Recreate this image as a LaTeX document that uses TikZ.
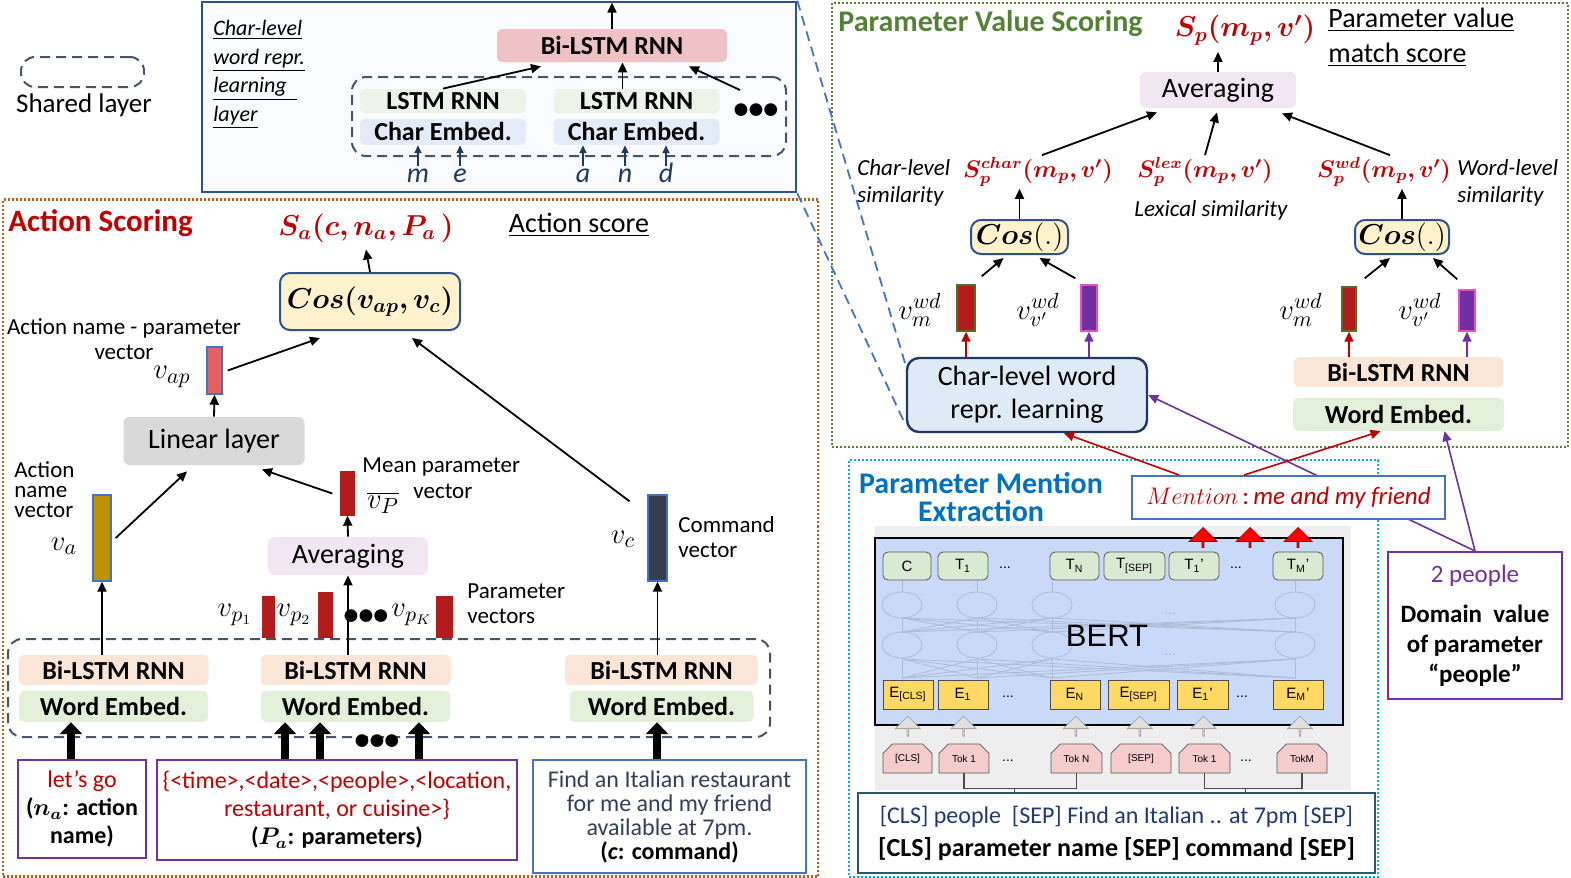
\documentclass[tikz,border=0pt]{standalone}
\usepackage{fontspec}
\setmainfont{Carlito}
\newfontfamily\bertfont{Liberation Sans}
\usepackage{bm}
\usetikzlibrary{positioning,arrows.meta,shapes.arrows,shapes.misc,calc}

\definecolor{panelblue}{RGB}{47,82,143}
\definecolor{panelfill}{RGB}{250,251,254}
\definecolor{dashblue}{RGB}{68,84,106}
\definecolor{linkblue}{RGB}{68,114,196}
\definecolor{orangedot}{RGB}{197,90,17}
\definecolor{greendot}{RGB}{84,130,53}
\definecolor{cyandot}{RGB}{0,176,240}
\definecolor{darkred}{RGB}{192,0,0}
\definecolor{titlegreen}{RGB}{84,130,53}
\definecolor{titleblue}{RGB}{0,112,192}
\definecolor{purp}{RGB}{112,48,160}
\definecolor{peach}{RGB}{251,229,214}
\definecolor{wegreen}{RGB}{226,240,217}
\definecolor{lstmgreen}{RGB}{237,243,233}
\definecolor{charblue}{RGB}{226,235,247}
\definecolor{bilstmpink}{RGB}{239,194,198}
\definecolor{avgpink}{RGB}{242,230,242}
\definecolor{cosyellow}{RGB}{255,242,204}
\definecolor{lineargray}{RGB}{217,217,217}
\definecolor{vapred}{RGB}{229,96,96}
\definecolor{vagold}{RGB}{191,144,0}
\definecolor{pred}{RGB}{180,28,28}
\definecolor{vcnavy}{RGB}{51,63,80}
\definecolor{barline}{RGB}{68,114,196}
\definecolor{purpbar}{RGB}{112,48,160}
\definecolor{pinkline}{RGB}{230,80,200}
\definecolor{oliveline}{RGB}{84,110,40}
\definecolor{charnavy}{RGB}{31,56,100}
\definecolor{reprfill}{RGB}{222,235,247}
\definecolor{reprline}{RGB}{31,56,100}
\definecolor{mentionblue}{RGB}{68,114,196}
\definecolor{bertgray}{RGB}{238,238,238}
\definecolor{bertblue}{RGB}{201,218,248}
\definecolor{tgreen}{RGB}{217,234,211}
\definecolor{eyellow}{RGB}{255,217,102}
\definecolor{tokpink}{RGB}{244,204,204}
\definecolor{faintline}{RGB}{172,188,214}
\definecolor{bertinline}{RGB}{46,84,110}
\definecolor{bertintext}{RGB}{31,56,120}
\definecolor{cmdtext}{RGB}{51,63,90}

\tikzset{
  arr/.style={-{Triangle[length=5pt,width=4.5pt]}, line width=0.9pt},
  navyarr/.style={draw=charnavy, -{Triangle[length=4pt,width=3.5pt]}, line width=0.8pt},
  redarr/.style={arr, draw=darkred, line width=0.8pt},
  purparr/.style={arr, draw=purp, line width=0.8pt},
  thickarr/.style={line width=3.6pt, -{Triangle[length=6pt,width=11pt]}},
  shared/.style={draw=dashblue, line width=1pt, dash pattern=on 5pt off 3pt, rounded corners=7pt, inner sep=0pt},
  linkdash/.style={draw=linkblue, line width=0.9pt, dash pattern=on 5pt off 3pt},
  layerbox/.style={rounded corners=2.5pt, inner sep=0pt, font=\fontsize{13}{15}\selectfont\bfseries},
  bilstm/.style={layerbox, fill=peach, minimum width=95pt, minimum height=15pt},
  wordemb/.style={layerbox, fill=wegreen, minimum width=94.5pt, minimum height=15.5pt},
  softbox/.style={rounded corners=3pt, inner sep=0pt, font=\fontsize{14}{16}\selectfont},
  cosbox/.style={draw=panelblue, fill=cosyellow, line width=1pt, rounded corners=5pt, inner sep=0pt},
  vecbar/.style={draw=barline, line width=0.7pt, inner sep=0pt},
  inbox/.style={line width=1pt, inner sep=0pt, align=center, font=\fontsize{12}{13}\selectfont},
  mathlbl/.style={font=\fontsize{15}{17}\selectfont, inner sep=1pt},
  scorelbl/.style={text=darkred, font=\fontsize{14}{16}\selectfont},
  simscore/.style={text=darkred, font=\fontsize{12}{14}\selectfont, inner sep=1pt},
  note/.style={font=\fontsize{11.5}{12.5}\selectfont, align=left, inner sep=0pt},
  simnote/.style={font=\fontsize{11.5}{13.5}\selectfont\itshape, align=left, inner sep=0pt},
  dotted panel/.style={line width=1.3pt, dash pattern=on 1pt off 1pt, inner sep=0pt},
  tbox/.style={draw=gray!70!black, fill=tgreen, rounded corners=2.5pt, inner sep=0pt, minimum height=14pt, font=\bertfont\fontsize{7.5}{8}\selectfont},
  ebox/.style={draw=gray!60!black, fill=eyellow, inner sep=0pt, minimum height=14.5pt, font=\bertfont\fontsize{7.5}{8}\selectfont},
  tokbox/.style={chamfered rectangle, chamfered rectangle corners={north west,north east}, chamfered rectangle xsep=1.5pt, draw=gray!70!black, fill=tokpink, inner sep=0pt, minimum height=14.5pt, font=\bertfont\fontsize{5}{6}\selectfont},
  redup/.style={single arrow, rotate=90, fill=red, draw=red!70!black, minimum height=10pt, minimum width=14pt, single arrow head extend=3pt, inner sep=0pt},
  grayup/.style={single arrow, rotate=90, fill=gray!25, draw=gray!70, minimum height=10pt, minimum width=12.5pt, single arrow head extend=3pt, inner sep=0pt},
  faint/.style={draw=faintline, line width=0.4pt},
  bertdots/.style={font=\bertfont\fontsize{7}{8}\selectfont}
}

\begin{document}
\begin{tikzpicture}[x=0.5pt,y=-0.5pt]
\useasboundingbox (0,0) rectangle (1571,878);

% Shared layer legend
\node(legendbox) [shared, minimum width=61.5pt, minimum height=15pt] at (82.5,72) {};
\node(legendtext) [font=\fontsize{13.5}{15}\selectfont] at (84,105) {Shared layer};

% Char-level word representation layer
\node(charpanel) [draw=panelblue, fill=panelfill, line width=1.3pt, minimum width=297pt, minimum height=95pt, inner sep=0pt] at (499,97) {};
\node(charnote) [note, anchor=north west, font=\fontsize{11}{14.25}\selectfont\itshape] at (213,20) {\underline{Char-level}\\\underline{word\ repr.}\\\underline{learning\ \ }\\\underline{layer}};
\node(charbilstm) [layerbox, fill=bilstmpink, minimum width=115pt, minimum height=16.5pt] at (612,45.5) {Bi-LSTM RNN};
\node(charshared) [shared, minimum width=217pt, minimum height=39.5pt] at (569,116.5) {};
\node(lstma) [layerbox, fill=lstmgreen, minimum width=83pt, minimum height=12pt] at (443,101) {LSTM RNN};
\node(embeda) [layerbox, fill=charblue, minimum width=83pt, minimum height=13pt, below=2.5pt of lstma] {Char Embed.};
\node(lstmb) [layerbox, fill=lstmgreen, minimum width=83pt, minimum height=12pt] at (636.5,101) {LSTM RNN};
\node(embedb) [layerbox, fill=charblue, minimum width=83pt, minimum height=13pt, below=2.5pt of lstmb] {Char Embed.};
\node(chardots) [font=\fontsize{15}{15}\selectfont\bfseries] at (756,111) {\textbullet\textbullet\textbullet};
\foreach \ltr/\x/\ch in {lm/418/m, le/460/e, la/583/a, ln/625/n, ld/666/d} {
  \node(\ltr) [font=\fontsize{14}{16}\selectfont\itshape, text=charnavy, text height=7pt, text depth=0pt, inner sep=1pt] at (\x,175) {\ch};
  \draw[navyarr] (\ltr.north) -- (\ltr.north |- embeda.south);
}
\coordinate(dotsrc) at (740,90);
\draw[arr] (lstma.north) -- ([xshift=-35.5pt,yshift=-2pt]charbilstm.south);
\draw[arr] ([xshift=-7pt]lstmb.north) -- ([xshift=-7pt]lstmb.north |- charbilstm.south);
\draw[arr] (dotsrc) -- ([xshift=38.5pt,yshift=-2pt]charbilstm.south);
\draw[arr] (charbilstm.north) -- ++(0,-26);

% Action Scoring
\node(actpanel) [dotted panel, draw=orangedot, minimum width=407.5pt, minimum height=338.5pt] at (410.5,538) {};
\node(acttitle) [anchor=west, inner sep=0pt, text=darkred, font=\fontsize{15.5}{17}\selectfont\bfseries] at (8,223) {Action Scoring};
\node(sa) [scorelbl] at (366,228) {$\bm{S_a(c,n_a,P_a\,)}$};
\node(actscore) [font=\fontsize{14}{16}\selectfont] at (579,225) {\underline{Action score}};
\node(cosa) [cosbox, minimum width=90pt, minimum height=28.5pt, font=\fontsize{14}{16}\selectfont] at (370,301.5) {$\bm{Cos(v_{ap},v_c)}$};
\draw[arr] (cosa.north) -- (sa.south);

\node(vaplabel) [note, align=center] at (124,339.5) {Action name - parameter\\vector};
\node(vap) [vecbar, fill=vapred, minimum width=7.5pt, minimum height=23.5pt] at (214.5,370.5) {};
\node(vapname) [mathlbl] at (172,377) {$v_{ap}$};
\node(linear) [softbox, fill=lineargray, minimum width=90.5pt, minimum height=24pt] at (214,441) {Linear layer};
\draw[arr] (linear.north) -- (vap.south);
\draw[arr] ([xshift=2.5pt]vap.east) -- ([xshift=-25pt,yshift=-3.5pt]cosa.south);

\node(valabel) [note, anchor=west, font=\fontsize{11.5}{10}\selectfont] at (14,490) {Action\\name\\vector};
\node(va) [vecbar, fill=vagold, minimum width=9pt, minimum height=43pt] at (102,538) {};
\node(vaname) [mathlbl] at (64,546) {$v_a$};
\draw[arr] ([xshift=2pt]va.east) -- ([xshift=-13.5pt,yshift=-3pt]linear.south);

\node(vpmean) [vecbar, draw=pred, fill=pred, minimum width=6.5pt, minimum height=21.5pt] at (347.5,493.5) {};
\node(vpmeanname) [mathlbl] at (383,503) {$\overline{v_P}$};
\node(meanlabel) [note, anchor=west] at (362,467) {Mean parameter};
\node(meanlabelb) [note, anchor=west] at (413,491) {vector};
\draw[arr] ([xshift=-4pt]vpmean.west) -- ([xshift=24pt,yshift=-2pt]linear.south);

\node(avga) [softbox, fill=avgpink, minimum width=80pt, minimum height=19pt] at (348,556) {Averaging};
\draw[arr] (avga.north) -- (vpmean.south);

\node(vpa) [vecbar, draw=pred, fill=pred, minimum width=5.5pt, minimum height=20pt] at (268.5,617) {};
\node(vpb) [vecbar, draw=pred, fill=pred, minimum width=6.5pt, minimum height=22pt] at (325.5,615) {};
\node(vpk) [vecbar, draw=pred, fill=pred, minimum width=7.5pt, minimum height=20pt] at (444.5,617) {};
\node(vpaname) [mathlbl] at (235,615) {$v_{p_1}$};
\node(vpbname) [mathlbl] at (294,615) {$v_{p_2}$};
\node(vpkname) [mathlbl] at (412,615) {$v_{p_K}$};
\node(plabel) [note, anchor=west] at (467,604) {Parameter\\vectors};

\node(vc) [vecbar, fill=vcnavy, minimum width=9.5pt, minimum height=43pt] at (657.5,538) {};
\node(vcname) [mathlbl] at (623,539) {$v_c$};
\node(vclabel) [note, anchor=west] at (678,537) {Command\\vector};
\draw[arr] ([xshift=-14pt,yshift=-3.5pt]vc.north) -- ([xshift=21pt,yshift=-3.5pt]cosa.south);

% Word level shared encoders
\node(wordshared) [shared, minimum width=381pt, minimum height=49pt] at (389,688) {};
\node(bilstma) [bilstm] at (113.5,670) {Bi-LSTM RNN};
\node(wordemba) [wordemb, below=2.5pt of bilstma] {Word Embed.};
\node(bilstmb) [bilstm] at (355.5,670) {Bi-LSTM RNN};
\node(wordembb) [wordemb, below=2.5pt of bilstmb] {Word Embed.};
\node(bilstmc) [bilstm, minimum width=96.5pt] at (661.5,670) {Bi-LSTM RNN};
\node(wordembc) [wordemb, minimum width=92pt, below=2.5pt of bilstmc] {Word Embed.};
\draw[arr] (va.south |- bilstma.north) -- (va.south);
\draw[arr] (avga.south |- bilstmb.north) -- (avga.south);
\node(pdots) [font=\fontsize{15}{15}\selectfont\bfseries] at (366,617) {\textbullet\textbullet\textbullet};
\draw[arr] (vc.south |- bilstmc.north) -- (vc.south);

% Inputs
\node(inname) [inbox, draw=purp, minimum width=64pt, minimum height=49pt] at (82,809) {{\color{darkred}let’s go}\\[1pt]\textbf{($\bm{n_a}$: action}\\[1pt]\textbf{name)}};
\node(inparams) [inbox, draw=purp, minimum width=180pt, minimum height=50pt] at (337,810) {{\color{darkred}\{<time>,<date>,<people>,<location,}\\[1pt]{\color{darkred}restaurant, or cuisine>\}}\\[1pt]\textbf{($\bm{P_a}$: parameters)}};
\node(incmd) [inbox, draw=linkblue, minimum width=136.5pt, minimum height=56.5pt, font=\fontsize{12}{12}\selectfont] at (669.5,816.5) {{\color{cmdtext}Find an Italian restaurant}\\{\color{cmdtext}for me and my friend}\\{\color{cmdtext}available at 7pm.}\\\textbf{(\textit{c}: command)}};
\draw[thickarr] ([xshift=-5.5pt]inname.north) -- ([xshift=-5.5pt]inname.north |- wordemba.south);
\foreach \dx in {-26,-8.5,41}
  \draw[thickarr] ([xshift=\dx pt]inparams.north) -- ([xshift=\dx pt]inparams.north |- wordembb.south);
\node(indots) [font=\fontsize{15}{15}\selectfont\bfseries] at (377,742) {\textbullet\textbullet\textbullet};
\draw[thickarr] ([xshift=-6.25pt]incmd.north) -- ([xshift=-6.25pt]incmd.north |- wordembc.south);

% Parameter Value Scoring
\node(pvpanel) [dotted panel, draw=greendot, minimum width=368pt, minimum height=222pt] at (1200,225) {};
\node(pvtitle) [anchor=west, inner sep=0pt, text=titlegreen, font=\fontsize{15}{17}\selectfont\bfseries] at (838,24) {Parameter Value Scoring};
\node(sp) [scorelbl] at (1245,30) {$\bm{S_p(m_p,v')}$};
\node(pvscore) [anchor=west, align=left, inner sep=0pt, font=\fontsize{14}{17.5}\selectfont] at (1328,37) {\underline{Parameter value}\\\underline{match score}};
\node(avgb) [softbox, fill=avgpink, minimum width=78pt, minimum height=18pt] at (1218,90) {Averaging};
\draw[arr] (avgb.north) -- (avgb.north |- sp.south);

\node(spchar) [simscore] at (1038,172) {$\bm{S_p^{char}(m_p,v')}$};
\node(splex) [simscore] at (1205,172) {$\bm{S_p^{lex}(m_p,v')}$};
\node(spwd) [simscore] at (1384,172) {$\bm{S_p^{wd}(m_p,v')}$};
\draw[arr] ([xshift=2pt]spchar.north) -- ([xshift=-30.5pt,yshift=-2pt]avgb.south);
\draw[arr] (splex.north) -- ([xshift=-0.5pt,yshift=-2pt]avgb.south);
\draw[arr] ([xshift=3pt]spwd.north) -- ([xshift=32pt,yshift=-2.5pt]avgb.south);
\node(charsim) [simnote, anchor=west] at (857,183) {Char-level\\similarity};
\node(lexsim) [simnote] at (1211,210) {Lexical similarity};
\node(wordsim) [simnote, anchor=west] at (1457,183) {Word-level\\similarity};

\node(cosb) [cosbox, minimum width=48.5pt, minimum height=17pt, font=\fontsize{14}{16}\selectfont] at (1019.5,237) {$\bm{Cos}(.)$};
\node(cosc) [cosbox, minimum width=47pt, minimum height=17pt, font=\fontsize{14}{16}\selectfont] at (1402,237) {$\bm{Cos}(.)$};
\draw[arr] (cosb.north) -- (cosb.north |- spchar.south);
\draw[arr] (cosc.north) -- (cosc.north |- spwd.south);

\node(vmb) [vecbar, draw=oliveline, fill=pred, minimum width=9pt, minimum height=23pt] at (966,308) {};
\node(vvb) [vecbar, draw=pinkline, fill=purpbar, minimum width=8pt, minimum height=23pt] at (1089,308) {};
\node(vmc) [vecbar, draw=oliveline, fill=pred, minimum width=7pt, minimum height=22pt] at (1349,309) {};
\node(vvc) [vecbar, draw=pinkline, fill=purpbar, minimum width=8pt, minimum height=20.5pt] at (1467,310.5) {};
\node(vmbname) [mathlbl] at (920,310) {$v_m^{wd}$};
\node(vvbname) [mathlbl] at (1038,310) {$v_{v'}^{wd}$};
\node(vmcname) [mathlbl] at (1301,310) {$v_m^{wd}$};
\node(vvcname) [mathlbl] at (1420,310) {$v_{v'}^{wd}$};
\draw[arr] ([xshift=3pt,yshift=4pt]vmb.north east) -- ([xshift=-8pt,yshift=-1.5pt]cosb.south);
\draw[arr] ([xshift=-2.5pt,yshift=3pt]vvb.north west) -- ([xshift=10pt,yshift=-1.5pt]cosb.south);
\draw[arr] ([xshift=4pt,yshift=4pt]vmc.north east) -- ([xshift=-6pt,yshift=-1.5pt]cosc.south);
\draw[arr] ([xshift=-0.5pt,yshift=5pt]vvc.north west) -- ([xshift=15.5pt,yshift=-1.5pt]cosc.south);

\node(charrepr) [draw=reprline, fill=reprfill, rounded corners=6pt, line width=1.2pt, minimum width=120pt, minimum height=37pt, inner sep=0pt, align=center, font=\fontsize{14}{16.5}\selectfont] at (1027,395) {Char-level word\\repr. learning};
\node(wbilstm) [bilstm, minimum width=104.5pt] at (1398.5,372) {Bi-LSTM RNN};
\node(wwordemb) [wordemb, minimum width=105.5pt, minimum height=16.5pt, below=5pt of wbilstm] {Word Embed.};
\draw[redarr] (vmb.south |- charrepr.north) -- (vmb.south);
\draw[purparr] (vvb.south |- charrepr.north) -- (vvb.south);
\draw[redarr] (vmc.south |- wbilstm.north) -- (vmc.south);
\draw[purparr] (vvc.south |- wbilstm.north) -- (vvc.south);

% links from the char-level layer
\draw[linkdash] (charpanel.north east) -- ([yshift=-4.5pt]charrepr.north west);
\draw[linkdash] (charpanel.south east) -- ([xshift=-1pt,yshift=6pt]charrepr.south west);

% Parameter Mention Extraction
\node(pmpanel) [dotted panel, draw=cyandot, minimum width=264.5pt, minimum height=208.5pt] at (1113.5,668.5) {};
\node(pmtitle) [align=center, inner sep=0pt, text=titleblue, font=\fontsize{15}{14}\selectfont\bfseries] at (981,497) {Parameter Mention\\Extraction};

\node(people) [inbox, draw=purp, minimum width=87pt, minimum height=73.5pt, font=\fontsize{12.5}{15}\selectfont] at (1475,625.5) {{\color{purp}2 people}\\[5pt]\textbf{Domain\ \ value}\\\textbf{of parameter}\\\textbf{“people”}};
\draw[purparr] (people.north) -- (charrepr.east);
\draw[purparr] (people.north) -- ([xshift=23pt]wwordemb.south);

\node(mention) [draw=mentionblue, fill=white, line width=1pt, inner sep=0pt, minimum width=156.5pt, minimum height=21.5pt, text=darkred, font=\fontsize{12.5}{15}\selectfont] at (1288.5,497.5) {$Mention$\,:\,\textit{me and my friend}};
\draw[redarr] ([xshift=-54.75pt]mention.north) -- ([xshift=18.5pt]charrepr.south);
\draw[redarr] ([xshift=-22.25pt]mention.north) -- ([xshift=-9pt]wwordemb.south);

% BERT
\node(bertbg) [fill=bertgray, inner sep=0pt, minimum width=238pt, minimum height=132pt] at (1113,658) {};
\node(bert) [draw=black, fill=bertblue, line width=1.3pt, inner sep=0pt, minimum width=234pt, minimum height=93.5pt] at (1109,631.5) {};
\foreach \x in {902,977,1052,1295} {
  \foreach \y in {605,645} \draw[faint] (\x,\y) ellipse [x radius=10pt, y radius=6.5pt];
  \foreach \xx in {902,977,1052,1295} {
    \draw[faint] (\x,678) -- (\xx,659);
    \draw[faint] (\x,632) -- (\xx,618);
  }
  \draw[faint] (\x,592) -- (\x,581);
}
\node(bertdotsa) [bertdots, text=faintline] at (1170,614) {...};
\node(bertdotsb) [bertdots, text=faintline] at (1170,655) {...};
\node(berttext) [font=\bertfont\fontsize{15.5}{17}\selectfont] at (1107,636) {BERT};

\foreach \nm/\x/\w/\lab in {tc/907/24/C, ta/963/25/{T\textsubscript{1}}, tn/1074.5/24.5/{T\textsubscript{N}}, tsep/1134.5/30.5/{T\textsubscript{[SEP]}}, tap/1194/25/{T\textsubscript{1}’}, tmp/1298/25/{T\textsubscript{M}’}}
  \node(\nm) [tbox, minimum width=\w pt] at (\x,566) {\lab};
\foreach \nm/\x/\w/\lab in {ecls/908/25/{E\textsubscript{[CLS]}}, ea/963/25/{E\textsubscript{1}}, en/1075/25/{E\textsubscript{N}}, esep/1138.5/30.5/{E\textsubscript{[SEP]}}, eap/1202.5/25.5/{E\textsubscript{1}’}, emp/1298/25/{E\textsubscript{M}’}}
  \node(\nm) [ebox, minimum width=\w pt] at (\x,694.5) {\lab};
\foreach \nm/\x/\w/\lab in {kcls/907.5/24.5/{[CLS]}, ka/964/25/{Tok 1}, kn/1076.5/25.5/{Tok N}, ksep/1141/30/{[SEP]}, kap/1204.5/25.5/{Tok 1}, kmp/1302/25/{TokM}}
  \node(\nm) [tokbox, minimum width=\w pt] at (\x,758.5) {\lab};
\foreach \x/\y in {1005/568, 1236/568, 1008/697, 1242/697, 1008/761, 1246/761}
  \node [bertdots] at (\x,\y) {...};
\foreach \k/\e in {kcls/ecls, ka/ea, kn/en, ksep/esep, kap/eap, kmp/emp}
  \node [grayup] at ($(\k.north)!0.5!(\e.south)$) {};
\foreach \x in {1203,1250,1298}
  \node [redup] at (\x,538) {};

\draw[gray!60!black, line width=0.6pt] (ka.south) -- ++(0,15) -| (kn.south);
\draw[gray!60!black, line width=0.6pt] (kap.south) -- ++(0,15) -| (kmp.south);
\node(bertin) [draw=bertinline, fill=white, line width=1.2pt, inner sep=0pt, minimum width=258.5pt, minimum height=40pt, align=center, font=\fontsize{12}{16.5}\selectfont] at (1116.5,833) {{\color{bertintext}[CLS] people\ \ [SEP] Find an Italian .. at 7pm [SEP]}\\{\fontsize{13}{16.5}\selectfont\bfseries [CLS] parameter name [SEP] command [SEP]}};
\draw[gray!60!black, line width=0.6pt] ($(ka.south)!0.45!(kn.south)+(0,15)$) -- ($(ka.south)!0.45!(kn.south)+(0,20)$);
\draw[gray!60!black, line width=0.6pt] ($(kap.south)!0.42!(kmp.south)+(0,15)$) -- ($(kap.south)!0.42!(kmp.south)+(0,20)$);
\end{tikzpicture}
\end{document}
